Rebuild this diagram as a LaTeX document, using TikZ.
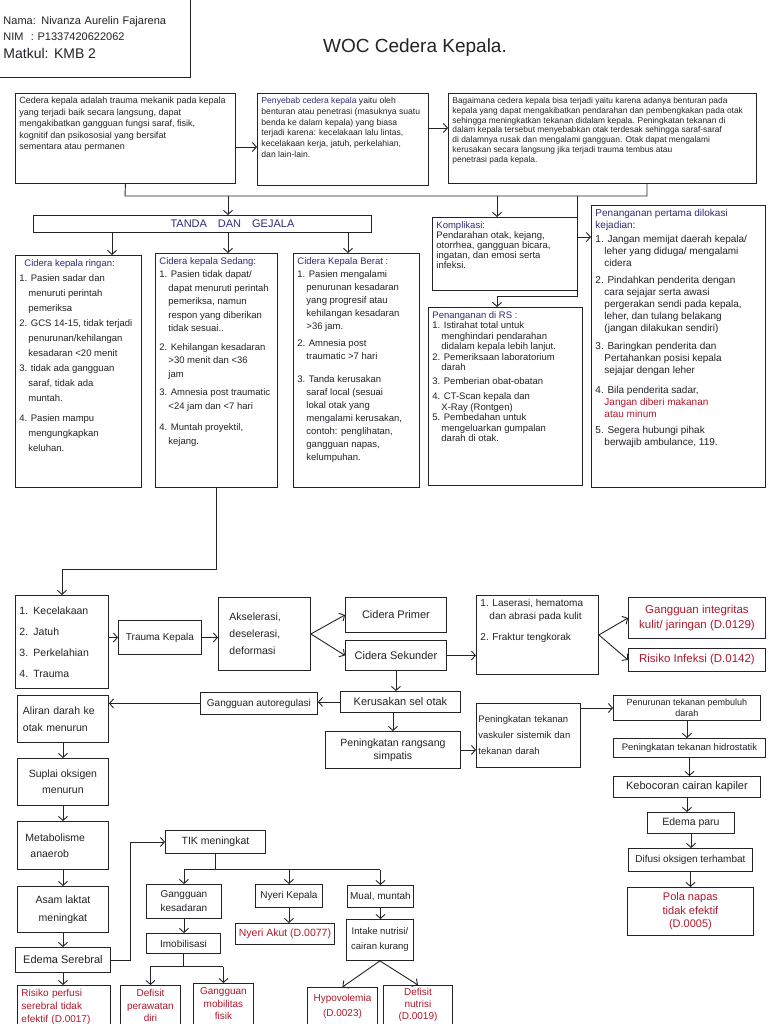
\documentclass[tikz,border=0pt]{standalone}
\usepackage{fontspec}
\setmainfont{Liberation Sans}
\usetikzlibrary{arrows.meta}
\definecolor{ink}{RGB}{35,35,40}
\definecolor{navy}{RGB}{45,45,120}
\definecolor{rd}{RGB}{175,25,45}
\newcommand{\fsz}[2]{\fontsize{#1}{#2}\selectfont}
\newcommand{\toptext}[3]{\parbox[t][#2][t]{#1}{\raggedright #3}}
\newcommand{\hind}{\hspace*{9pt}}

\begin{document}
\begin{tikzpicture}[x=1pt, y=-1pt, color=ink, line width=0.9pt,
  >={Straight Barb[length=4pt,width=9pt]},
  bx/.style={draw, anchor=north west, inner sep=3pt, align=center,
             font=\fsz{10.5}{13}},
  sz/.style 2 args={minimum width=#1pt, minimum height=#2pt},
  rdx/.style={bx, text=rd}]
\useasboundingbox (0,0) rectangle (768,1024);
\fill[white] (0,0) rectangle (768,1024);
\clip (0,0) rectangle (768,1024);

% header and title
\node[bx, sz={193}{80}, text width=181pt, align=left, inner sep=6pt, font=\fsz{11}{13}] (hdr) at (-3,-3)
  {Nama: Nivanza Aurelin Fajarena\\[3pt] NIM\ \ : P1337420622062\\[5pt] {\fsz{14}{16}Matkul: KMB 2}};
\node[font=\fsz{19}{22}] (title) at (415,48) {WOC Cedera Kepala.};

% top row
\node[bx, sz={220}{90}, inner sep=4pt] (def) at (15,93) {\toptext{212pt}{82pt}{\fsz{9}{11.5}%
  Cedera kepala adalah trauma mekanik pada kepala\\ yang terjadi baik secara langsung, dapat\\
  mengakibatkan gangguan fungsi saraf, fisik,\\ kognitif dan psikososial yang bersifat\\
  sementara atau permanen}};
\node[bx, sz={171}{92}, inner sep=4pt] (sebab) at (257,93) {\toptext{163pt}{84pt}{\fsz{8.6}{10.7}%
  {\color{navy}Penyebab cedera kepala} yaitu oleh\\ benturan atau penetrasi (masuknya suatu\\
  benda ke dalam kepala) yang biasa\\ terjadi karena: kecelakaan lalu lintas,\\
  kecelakaan kerja, jatuh, perkelahian,\\ dan lain-lain.}};
\node[bx, sz={308}{90}, inner sep=4pt] (proses) at (448,93) {\toptext{300pt}{82pt}{\fsz{8.4}{9.8}%
  Bagaimana cedera kepala bisa terjadi yaitu karena adanya benturan pada\\
  kepala yang dapat mengakibatkan pendarahan dan pembengkakan pada otak\\
  sehingga meningkatkan tekanan didalam kepala. Peningkatan tekanan di\\
  dalam kepala tersebut menyebabkan otak terdesak sehingga saraf-saraf\\
  di dalamnya rusak dan mengalami gangguan. Otak dapat mengalami\\
  kerusakan secara langsung jika terjadi trauma tembus atau\\
  penetrasi pada kepala.}};

% tanda dan gejala
\node[bx, sz={338}{17}, inner sep=1pt, text=navy, font=\fsz{11}{13}] (tanda) at (33,215)
  {\hspace*{60pt}TANDA\quad DAN\quad GEJALA};
\node[bx, sz={126}{232}, inner sep=4pt] (ringan) at (15,255) {\toptext{118pt}{224pt}{\fsz{9.5}{15}%
  {\color{navy}\hspace*{5pt}Cidera kepala ringan:}\\
  1. Pasien sadar dan\\ \hind menuruti perintah\\ \hind pemeriksa\\
  2. GCS 14-15, tidak terjadi\\ \hind penurunan/kehilangan\\ \hind kesadaran <20 menit\\
  3. tidak ada gangguan\\ \hind saraf, tidak ada\\ \hind muntah.\\[5pt]
  4. Pasien mampu\\ \hind mengungkapkan\\ \hind keluhan.}};
\node[bx, sz={122}{234}, inner sep=4pt] (sedang) at (155,253) {\toptext{114pt}{226pt}{\fsz{9.5}{13.5}%
  {\color{navy}Cidera kepala Sedang:}\\
  1. Pasien tidak dapat/\\ \hind dapat menuruti perintah\\ \hind pemeriksa, namun\\
  \hind respon yang diberikan\\ \hind tidak sesuai..\\[5pt]
  2. Kehilangan kesadaran\\ \hind >30 menit dan <36\\ \hind jam\\[5pt]
  3. Amnesia post traumatic\\ \hind <24 jam dan <7 hari\\[8pt]
  4. Muntah proyektil,\\ \hind kejang.}};
\node[bx, sz={126}{234}, inner sep=4pt] (berat) at (293,253) {\toptext{118pt}{226pt}{\fsz{9.5}{13}%
  {\color{navy}Cidera Kepala Berat :}\\
  1. Pasien mengalami\\ \hind penurunan kesadaran\\ \hind yang progresif atau\\
  \hind kehilangan kesadaran\\ \hind >36 jam.\\[4pt]
  2. Amnesia post\\ \hind traumatic >7 hari\\[10pt]
  3. Tanda kerusakan\\ \hind saraf local (sesuai\\ \hind lokal otak yang\\
  \hind mengalami kerusakan,\\ \hind contoh: penglihatan,\\ \hind gangguan napas,\\
  \hind kelumpuhan.}};

% komplikasi dan penanganan
\node[bx, sz={145}{73}, inner sep=4pt] (komp) at (432,217) {\toptext{137pt}{65pt}{\fsz{9.5}{10}%
  {\color{navy}Komplikasi:}\\ Pendarahan otak, kejang,\\ otorrhea, gangguan bicara,\\
  ingatan, dan emosi serta\\ infeksi.}};
\node[bx, sz={154}{178}, inner sep=4pt] (rs) at (428,307) {\toptext{146pt}{170pt}{\fsz{9.5}{10.5}%
  {\color{navy}Penanganan di RS :}\\
  1. Istirahat total untuk\\ \hind menghindari pendarahan\\ \hind didalam kepala lebih lanjut.\\
  2. Pemeriksaan laboratorium\\ \hind darah\\[3pt]
  3. Pemberian obat-obatan\\[5pt]
  4. CT-Scan kepala dan\\ \hind X-Ray (Rontgen)\\
  5. Pembedahan untuk\\ \hind mengeluarkan gumpalan\\ \hind darah di otak.}};
\node[bx, sz={174}{282}, inner sep=4pt] (pertama) at (591,205) {\toptext{166pt}{274pt}{\fsz{10}{12}%
  {\color{navy}Penanganan pertama dilokasi\\ kejadian:}\\[2pt]
  1. Jangan memijat daerah kepala/\\ \hind leher yang diduga/ mengalami\\ \hind cidera\\[5pt]
  2. Pindahkan penderita dengan\\ \hind cara sejajar serta awasi\\ \hind pergerakan sendi pada kepala,\\
  \hind leher, dan tulang belakang\\ \hind (jangan dilakukan sendiri)\\[6pt]
  3. Baringkan penderita dan\\ \hind Pertahankan posisi kepala\\ \hind sejajar dengan leher\\[8pt]
  4. Bila penderita sadar,\\ {\color{rd}\hind Jangan diberi makanan\\ \hind atau minum}\\[4pt]
  5. Segera hubungi pihak\\ \hind berwajib ambulance, 119.}};

% top connectors
\coordinate (jl) at (125,196);
\coordinate (jr) at (647,196);
\coordinate (jk) at (577,296);
\draw[->] (def.east |- 0,147) -- (sebab.west |- 0,147);
\draw[->] (sebab.east |- 0,128) -- (proses.west |- 0,128);
\draw (def.south) -- (jl) -- (jr) -- (proses.south -| jr);
\draw[->] (jl -| 228,0) -- (tanda.north -| 228,0);
\draw[->] (jl -| 497,0) -- (komp.north -| 497,0);
\draw[->] (jl -| jk) -- (jk) -- (jk -| 497,0) -- (rs.north -| 497,0);
\draw[->] (jk |- 0,237) -- (pertama.west |- 0,237);
\foreach \xx/\nn in {112/ringan, 228/sedang, 348/berat}
  \draw[->] (tanda.south -| \xx,0) -- (\nn.north -| \xx,0);

% lower chain
\node[bx, sz={93}{93}, text width=85pt, align=left] (causes) at (15,595)
  {1. Kecelakaan\\[8pt] 2. Jatuh\\[8pt] 3. Perkelahian\\[8pt] 4. Trauma};
\node[bx, sz={83}{34}, font=\fsz{10}{12}] (trauma) at (118,620) {Trauma Kepala};
\node[bx, sz={92}{73}, text width=70pt, align=left] (aksel) at (218,597)
  {Akselerasi,\\[4pt] deselerasi,\\[4pt] deformasi};
\node[bx, sz={101}{35}, font=\fsz{11}{13}] (primer) at (345,597) {Cidera Primer};
\node[bx, sz={101}{30}, font=\fsz{11}{13}] (sekunder) at (345,640) {Cidera Sekunder};
\node[bx, sz={122}{79}, inner sep=4pt] (laserasi) at (476,595) {\toptext{114pt}{71pt}{\fsz{10}{13}%
  1. Laserasi, hematoma\\ \hind dan abrasi pada kulit\\[8pt] 2. Fraktur tengkorak}};
\node[rdx, sz={137}{41}, font=\fsz{11.5}{15}] (integritas) at (628,597)
  {Gangguan integritas\\ kulit/ jaringan (D.0129)};
\node[rdx, sz={137}{23}, font=\fsz{11.5}{13}] (infeksi) at (628,648) {Risiko Infeksi (D.0142)};
\node[bx, sz={120}{21}, font=\fsz{11}{13}] (kerusakan) at (340,691) {Kerusakan sel otak};
\node[bx, sz={117}{22}, font=\fsz{10}{12}] (autoreg) at (200,692) {Gangguan autoregulasi};
\node[bx, sz={91}{47}, text width=80pt, align=left] (aliran) at (17,695)
  {Aliran darah ke\\[4pt] otak menurun};
\node[bx, sz={135}{37}] (simpatis) at (325,731) {Peningkatan rangsang\\ simpatis};
\node[bx, sz={104}{64}, inner sep=2pt, text width=100pt, align=left, font=\fsz{9.5}{16}] (vaskuler) at (476,703)
  {Peningkatan tekanan\\ vaskuler sistemik dan\\ tekanan darah};
\node[bx, sz={147}{25}, inner sep=1pt, font=\fsz{9}{10.5}] (penurunan) at (613,695)
  {Penurunan tekanan pembuluh\\ darah};
\node[bx, sz={152}{19}, inner sep=1pt, font=\fsz{9.5}{11}] (hidro) at (613,738)
  {Peningkatan tekanan hidrostatik};
\node[bx, sz={147}{21}, font=\fsz{11}{13}] (bocor) at (613,776) {Kebocoran cairan kapiler};
\node[bx, sz={87}{21}] (edparu) at (647,812) {Edema paru};
\node[bx, sz={124}{23}, font=\fsz{10}{12}] (difusi) at (628,848) {Difusi oksigen terhambat};
\node[rdx, sz={126}{48}, font=\fsz{11}{13.5}] (pola) at (627,887) {Pola napas\\ tidak efektif\\ (D.0005)};

\node[bx, sz={91}{47}, font=\fsz{10.5}{16}] (suplai) at (17,758) {Suplai oksigen\\ menurun};
\node[bx, sz={91}{48}, text width=75pt, align=left, font=\fsz{10.5}{16}] (metab) at (17,821)
  {Metabolisme\\ \hspace*{5pt}anaerob};
\node[bx, sz={91}{46}, font=\fsz{10.5}{18}] (asam) at (17,886) {Asam laktat\\ meningkat};
\node[bx, sz={95}{25}, font=\fsz{11}{13}] (edser) at (15,947) {Edema Serebral};
\node[rdx, sz={93}{43}, text width=85pt, align=left, font=\fsz{10}{13}] (perfusi) at (17,985)
  {Risiko perfusi\\ serebral tidak\\ efektif (D.0017)};

\node[bx, sz={100}{23}] (tik) at (165,830) {TIK meningkat};
\node[bx, sz={75}{34}, font=\fsz{10}{14}] (kesadaran) at (146,884) {Gangguan\\ kesadaran};
\node[bx, sz={74}{20}, font=\fsz{10}{12}] (imob) at (146,933) {Imobilisasi};
\node[rdx, sz={60}{40}, inner sep=1pt, font=\fsz{10}{12.5}] (perawatan) at (120,985) {Defisit\\ perawatan\\ diri};
\node[rdx, sz={60}{41}, inner sep=1pt, font=\fsz{10}{12.5}] (mobilitas) at (193,983) {Gangguan\\ mobilitas\\ fisik};
\node[bx, sz={67}{23}, font=\fsz{10}{12}] (nyeri) at (255,884) {Nyeri Kepala};
\node[rdx, sz={99}{21}] (nyeriakut) at (235,923) {Nyeri Akut (D.0077)};
\node[bx, sz={66}{22}, inner sep=2pt, font=\fsz{10}{12}] (mual) at (347,885) {Mual, muntah};
\node[bx, sz={67}{41}, inner sep=2pt, font=\fsz{9.5}{15}] (intake) at (346,919) {Intake nutrisi/\\ cairan kurang};
\node[rdx, sz={70}{38}, font=\fsz{10}{15}] (hipo) at (307,987) {Hypovolemia\\ (D.0023)};
\node[rdx, sz={69}{39}, inner sep=1pt, font=\fsz{10}{12}] (nutrisi) at (383,985) {Defisit\\ nutrisi\\ (D.0019)};

% lower connectors
\draw[->] (sedang.south) -- ++(0,82) -| (causes.north);
\draw[->] (causes.east |- trauma.west) -- (trauma.west);
\draw[->] (trauma.east) -- (aksel.west |- trauma.east);
\draw[->] (aksel.east) -- (primer.west);
\draw[->] (aksel.east) -- (sekunder.west);
\draw[->] (sekunder.east) -- (laserasi.west |- sekunder.east);
\draw[->] (laserasi.east) -- (integritas.west);
\draw[->] (laserasi.east) -- (infeksi.west);
\draw[->] (sekunder.south) -- (kerusakan.north -| sekunder.south);
\draw[->] (kerusakan.west) -- (autoreg.east |- kerusakan.west);
\draw[->] (autoreg.west) -- (aliran.east |- autoreg.west);
\draw[->] (kerusakan.south -| simpatis.north) -- (simpatis.north);
\draw[->] (simpatis.east) -- (vaskuler.west |- simpatis.east);
\draw[->] (vaskuler.east |- penurunan.west) -- (penurunan.west);
\foreach \a/\b in {penurunan/hidro, hidro/bocor, bocor/edparu, edparu/difusi, difusi/pola,
                   aliran/suplai, suplai/metab, metab/asam, asam/edser, edser/perfusi,
                   nyeri/nyeriakut, mual/intake, kesadaran/imob}
  \draw[->] (\a.south) -- (\b.north -| \a.south);
\draw[->] (edser.east) -- ++(20,0) |- (tik.west);
\draw (tik.south) -- ++(0,16) coordinate (jt);
\draw (jt -| kesadaran.north) -- (jt -| mual.north);
\foreach \n in {kesadaran, nyeri, mual}
  \draw[->] (jt -| \n.north) -- (\n.north);
\draw (imob.south) -- ++(0,13) coordinate (ji);
\draw (ji -| perawatan.north) -- (ji -| mobilitas.north);
\foreach \n in {perawatan, mobilitas}
  \draw[->] (ji -| \n.north) -- (\n.north);
\draw[->] (intake.south) -- (hipo.north);
\draw[->] (intake.south) -- (nutrisi.north);
\end{tikzpicture}
\end{document}
